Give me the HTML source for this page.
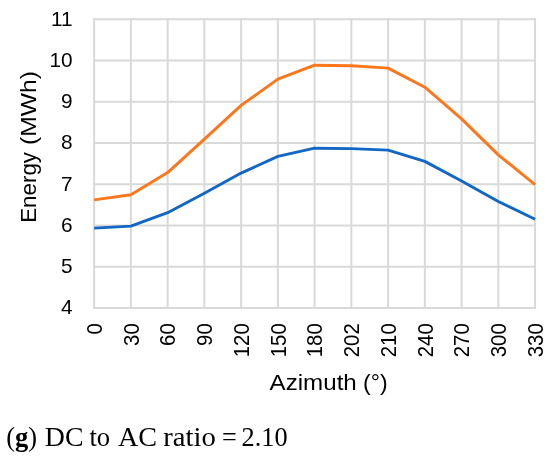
<!DOCTYPE html>
<html lang="en">
<head>
<meta charset="utf-8">
<title>DC to AC ratio = 2.10</title>
<style>
html,body{margin:0;padding:0;background:#fff;}
body{width:550px;height:463px;overflow:hidden;}
svg{display:block;}
.tick{font-family:"Liberation Sans",sans-serif;font-size:19.6px;fill:#000;}
.title{font-family:"Liberation Sans",sans-serif;font-size:22px;fill:#000;}
.cap{font-family:"Liberation Serif",serif;font-size:26.4px;fill:#000;}
</style>
</head>
<body>
<svg width="550" height="463" viewBox="0 0 550 463">
<rect x="0" y="0" width="550" height="463" fill="#ffffff"/>
<g stroke="#d9d9d9" stroke-width="2.0" fill="none">
<line x1="94.15" y1="18.35" x2="94.15" y2="309.00"/>
<line x1="130.89" y1="18.35" x2="130.89" y2="309.00"/>
<line x1="167.63" y1="18.35" x2="167.63" y2="309.00"/>
<line x1="204.38" y1="18.35" x2="204.38" y2="309.00"/>
<line x1="241.12" y1="18.35" x2="241.12" y2="309.00"/>
<line x1="277.86" y1="18.35" x2="277.86" y2="309.00"/>
<line x1="314.60" y1="18.35" x2="314.60" y2="309.00"/>
<line x1="351.34" y1="18.35" x2="351.34" y2="309.00"/>
<line x1="388.08" y1="18.35" x2="388.08" y2="309.00"/>
<line x1="424.83" y1="18.35" x2="424.83" y2="309.00"/>
<line x1="461.57" y1="18.35" x2="461.57" y2="309.00"/>
<line x1="498.31" y1="18.35" x2="498.31" y2="309.00"/>
<line x1="535.05" y1="18.35" x2="535.05" y2="309.00"/>
<line x1="93.15" y1="19.35" x2="536.05" y2="19.35"/>
<line x1="93.15" y1="60.59" x2="536.05" y2="60.59"/>
<line x1="93.15" y1="101.82" x2="536.05" y2="101.82"/>
<line x1="93.15" y1="143.06" x2="536.05" y2="143.06"/>
<line x1="93.15" y1="184.29" x2="536.05" y2="184.29"/>
<line x1="93.15" y1="225.53" x2="536.05" y2="225.53"/>
<line x1="93.15" y1="266.76" x2="536.05" y2="266.76"/>
<line x1="93.15" y1="308.00" x2="536.05" y2="308.00"/>
</g>
<polyline points="94.15,228.10 130.89,226.10 167.63,212.70 204.38,193.20 241.12,173.10 277.86,156.40 314.60,148.20 351.34,148.60 388.08,150.10 424.83,161.40 461.57,181.00 498.31,201.50 535.05,219.20" fill="none" stroke="#1166c6" stroke-width="2.9" stroke-linejoin="round" stroke-linecap="butt"/>
<polyline points="94.15,199.90 130.89,194.70 167.63,172.60 204.38,139.10 241.12,105.40 277.86,79.10 314.60,65.20 351.34,65.70 388.08,68.10 424.83,87.20 461.57,118.90 498.31,154.90 535.05,184.60" fill="none" stroke="#fc771b" stroke-width="2.9" stroke-linejoin="round" stroke-linecap="butt"/>
<g class="tick" text-anchor="end" style="font-size:20.8px">
<text x="72.7" y="25.75">11</text>
<text x="72.7" y="66.99">10</text>
<text x="72.7" y="108.22">9</text>
<text x="72.7" y="149.46">8</text>
<text x="72.7" y="190.69">7</text>
<text x="72.7" y="231.93">6</text>
<text x="72.7" y="273.16">5</text>
<text x="72.7" y="314.40">4</text>
</g>
<g class="tick" text-anchor="end" style="font-size:21.4px">
<text transform="translate(101.85,323.3) rotate(-90) scale(0.95,1)" x="0" y="0">0</text>
<text transform="translate(138.59,323.3) rotate(-90) scale(0.95,1)" x="0" y="0">30</text>
<text transform="translate(175.33,323.3) rotate(-90) scale(0.95,1)" x="0" y="0">60</text>
<text transform="translate(212.07,323.3) rotate(-90) scale(0.95,1)" x="0" y="0">90</text>
<text transform="translate(248.82,323.3) rotate(-90) scale(0.95,1)" x="0" y="0">120</text>
<text transform="translate(285.56,323.3) rotate(-90) scale(0.95,1)" x="0" y="0">150</text>
<text transform="translate(322.30,323.3) rotate(-90) scale(0.95,1)" x="0" y="0">180</text>
<text transform="translate(359.04,323.3) rotate(-90) scale(0.95,1)" x="0" y="0">202</text>
<text transform="translate(395.78,323.3) rotate(-90) scale(0.95,1)" x="0" y="0">210</text>
<text transform="translate(432.53,323.3) rotate(-90) scale(0.95,1)" x="0" y="0">240</text>
<text transform="translate(469.27,323.3) rotate(-90) scale(0.95,1)" x="0" y="0">270</text>
<text transform="translate(506.01,323.3) rotate(-90) scale(0.95,1)" x="0" y="0">300</text>
<text transform="translate(542.75,323.3) rotate(-90) scale(0.95,1)" x="0" y="0">330</text>
</g>
<text class="title" transform="translate(36.2,0) rotate(-90)"><tspan x="-222.8" textLength="70.8" lengthAdjust="spacingAndGlyphs">Energy</tspan> <tspan x="-145" textLength="74" lengthAdjust="spacingAndGlyphs">(MWh)</tspan></text>
<text class="title" y="390"><tspan x="269.6" textLength="87.2" lengthAdjust="spacingAndGlyphs">Azimuth</tspan> <tspan x="363" textLength="24.6" lengthAdjust="spacingAndGlyphs">(°)</tspan></text>
<text class="cap" y="446.2"><tspan x="6.20" textLength="30.90" lengthAdjust="spacingAndGlyphs">(<tspan font-weight="bold">g</tspan>)</tspan> <tspan x="44.80" textLength="38.70" lengthAdjust="spacingAndGlyphs">DC</tspan> <tspan x="89.40" textLength="20.70" lengthAdjust="spacingAndGlyphs">to</tspan> <tspan x="118.00" textLength="39.10" lengthAdjust="spacingAndGlyphs">AC</tspan> <tspan x="163.20" textLength="52.60" lengthAdjust="spacingAndGlyphs">ratio</tspan> <tspan x="221.90" textLength="14.80" lengthAdjust="spacingAndGlyphs">=</tspan> <tspan x="241.50" textLength="46.10" lengthAdjust="spacingAndGlyphs">2.10</tspan></text>
</svg>
</body>
</html>
